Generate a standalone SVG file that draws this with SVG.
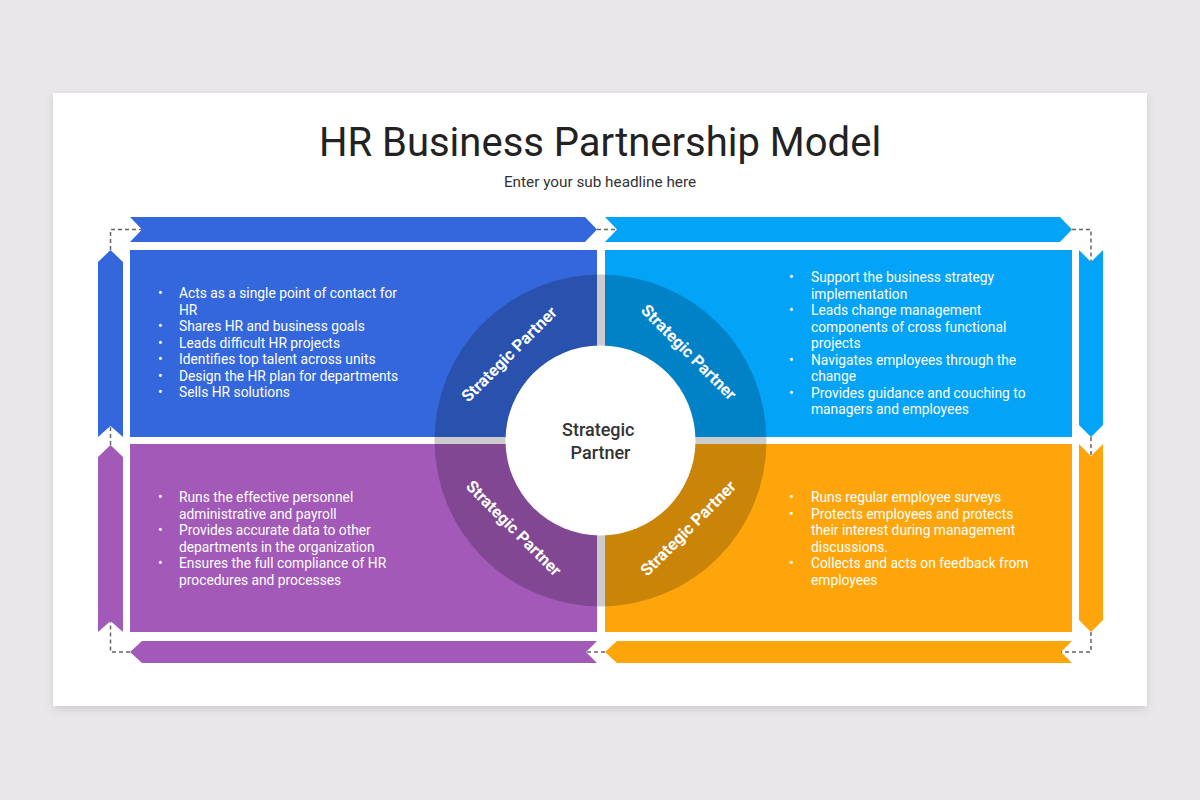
<svg xmlns="http://www.w3.org/2000/svg" width="1200" height="800" viewBox="0 0 1200 800">
  <defs>
    <filter id="shadow" x="-5%" y="-5%" width="110%" height="115%">
      <feDropShadow dx="0" dy="3" stdDeviation="4" flood-color="#000" flood-opacity="0.12"/>
    </filter>
    <style>
      .title { font-family: Roboto, "Liberation Sans", sans-serif; font-size: 40px; fill: #222; }
      .sub { font-family: Roboto, "Liberation Sans", sans-serif; font-size: 15.3px; fill: #333; }
      .body { font-family: Roboto, "Liberation Sans", sans-serif; font-size: 13.8px; fill: #fff; }
      .ring { font-family: Roboto, "Liberation Sans", sans-serif; font-size: 16.5px; font-weight: 700; fill: #fff; }
      .center { font-family: Roboto, "Liberation Sans", sans-serif; font-size: 18px; font-weight: 500; fill: #333; }
      .dash { fill: none; stroke: #666; stroke-width: 1.5; stroke-dasharray: 4 3; }
      .blue { fill: #3467db; }
      .lblue { fill: #03a3f8; }
      .purple { fill: #a259b8; }
      .orange { fill: #fda50b; }
    </style>
  </defs>

  <rect x="0" y="0" width="1200" height="800" fill="#e9e7e9"/>
  <rect x="53" y="93" width="1094" height="613" fill="#fff" filter="url(#shadow)"/>

  <text class="title" x="600" y="156" text-anchor="middle">HR Business Partnership Model</text>
  <text class="sub" x="600" y="187" text-anchor="middle">Enter your sub headline here</text>

  <!-- arrows -->
  <g id="arrow-top-blue"><polygon class="blue" points="130,217 585,217 597,229.5 585,242 130,242 142,229.5"/></g>
  <g id="arrow-top-lightblue"><polygon class="lblue" points="605,217 1060,217 1072,229.5 1060,242 605,242 617,229.5"/></g>
  <g id="arrow-right-lightblue"><polygon class="lblue" points="1079,250 1091,262 1103,250 1103,425 1091,437 1079,425"/></g>
  <g id="arrow-right-orange"><polygon class="orange" points="1079,444 1091,456 1103,444 1103,620 1091,632 1079,620"/></g>
  <g id="arrow-bottom-orange"><polygon class="orange" points="1072,641 1061,652 1072,663 617,663 605,652 617,641"/></g>
  <g id="arrow-bottom-purple"><polygon class="purple" points="597,641 586,652 597,663 142,663 130,652 142,641"/></g>
  <g id="arrow-left-purple"><polygon class="purple" points="98,632 110.5,621 123,632 123,457 110.5,445 98,457"/></g>
  <g id="arrow-left-blue"><polygon class="blue" points="98,437 110.5,426 123,437 123,262 110.5,250 98,262"/></g>

  <!-- connectors -->
  <g id="connectors">
    <path class="dash" d="M597,229.5 H617"/>
    <path class="dash" d="M1072,229.5 H1091 V262"/>
    <path class="dash" d="M1091,437 V456"/>
    <path class="dash" d="M1091,632 V652 H1061"/>
    <path class="dash" d="M605,652 H586"/>
    <path class="dash" d="M130,652 H110.5 V621"/>
    <path class="dash" d="M110.5,445 V426"/>
    <path class="dash" d="M110.5,250 V229.5 H142"/>
  </g>

  <!-- quadrants -->
  <g id="quadrant-blue">
    <rect class="blue" x="130" y="250" width="467" height="187"/>
    <text class="body">
      <tspan x="158" y="298">•</tspan><tspan x="179" y="298">Acts as a single point of contact for</tspan>
      <tspan x="179" y="314.5">HR</tspan>
      <tspan x="158" y="331">•</tspan><tspan x="179" y="331">Shares HR and business goals</tspan>
      <tspan x="158" y="347.5">•</tspan><tspan x="179" y="347.5">Leads difficult HR projects</tspan>
      <tspan x="158" y="364">•</tspan><tspan x="179" y="364">Identifies top talent across units</tspan>
      <tspan x="158" y="380.5">•</tspan><tspan x="179" y="380.5">Design the HR plan for departments</tspan>
      <tspan x="158" y="397">•</tspan><tspan x="179" y="397">Sells HR solutions</tspan>
    </text>
  </g>
  <g id="quadrant-lightblue">
    <rect class="lblue" x="605" y="250" width="467" height="187"/>
    <text class="body">
      <tspan x="789" y="282">•</tspan><tspan x="811" y="282">Support the business strategy</tspan>
      <tspan x="811" y="298.5">implementation</tspan>
      <tspan x="789" y="315">•</tspan><tspan x="811" y="315">Leads change management</tspan>
      <tspan x="811" y="331.5">components of cross functional</tspan>
      <tspan x="811" y="348">projects</tspan>
      <tspan x="789" y="364.5">•</tspan><tspan x="811" y="364.5">Navigates employees through the</tspan>
      <tspan x="811" y="381">change</tspan>
      <tspan x="789" y="397.5">•</tspan><tspan x="811" y="397.5">Provides guidance and couching to</tspan>
      <tspan x="811" y="414">managers and employees</tspan>
    </text>
  </g>
  <g id="quadrant-purple">
    <rect class="purple" x="130" y="444" width="467" height="188"/>
    <text class="body">
      <tspan x="158" y="502">•</tspan><tspan x="179" y="502">Runs the effective personnel</tspan>
      <tspan x="179" y="518.5">administrative and payroll</tspan>
      <tspan x="158" y="535">•</tspan><tspan x="179" y="535">Provides accurate data to other</tspan>
      <tspan x="179" y="551.5">departments in the organization</tspan>
      <tspan x="158" y="568">•</tspan><tspan x="179" y="568">Ensures the full compliance of HR</tspan>
      <tspan x="179" y="584.5">procedures and processes</tspan>
    </text>
  </g>
  <g id="quadrant-orange">
    <rect class="orange" x="605" y="444" width="467" height="188"/>
    <text class="body">
      <tspan x="789" y="502">•</tspan><tspan x="811" y="502">Runs regular employee surveys</tspan>
      <tspan x="789" y="518.5">•</tspan><tspan x="811" y="518.5">Protects employees and protects</tspan>
      <tspan x="811" y="535">their interest during management</tspan>
      <tspan x="811" y="551.5">discussions.</tspan>
      <tspan x="789" y="568">•</tspan><tspan x="811" y="568">Collects and acts on feedback from</tspan>
      <tspan x="811" y="584.5">employees</tspan>
    </text>
  </g>

  <!-- ring -->
  <g id="ring">
    <circle cx="600.5" cy="440.5" r="166" fill="#000" fill-opacity="0.2"/>
    <text class="ring" text-anchor="middle" transform="translate(509,354) rotate(-45)" y="6">Strategic Partner</text>
    <text class="ring" text-anchor="middle" transform="translate(689,352) rotate(45)" y="6">Strategic Partner</text>
    <text class="ring" text-anchor="middle" transform="translate(514,528) rotate(45)" y="6">Strategic Partner</text>
    <text class="ring" text-anchor="middle" transform="translate(688,528) rotate(-45)" y="6">Strategic Partner</text>
  </g>

  <g id="center">
    <circle cx="600.5" cy="440.5" r="95" fill="#fff"/>
    <text class="center" text-anchor="middle">
      <tspan x="600.5" y="436">Strategic</tspan>
      <tspan x="600.5" y="459">Partner</tspan>
    </text>
  </g>
</svg>
